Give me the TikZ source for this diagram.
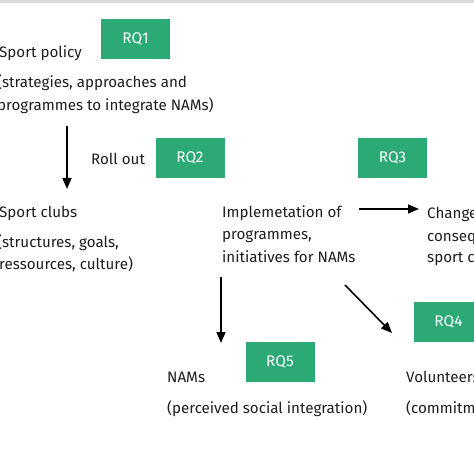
\documentclass[tikz,border=0pt]{standalone}
\usepackage{fontspec}
\setmainfont{Fira Sans}
\usetikzlibrary{arrows.meta}
\definecolor{rqgreen}{RGB}{44,170,118}
\definecolor{txt}{RGB}{30,30,30}
\begin{document}
\begin{tikzpicture}[x=1bp,y=-1bp,
  rq/.style={fill=rqgreen,text=white,minimum width=69bp,minimum height=40bp,inner sep=0pt,font=\fontsize{15.5}{18}\selectfont},
  lbl/.style={anchor=mid west,inner sep=0pt,text=txt,font=\fontsize{15.2}{18}\selectfont},
  arr/.style={line width=1.6bp,-{Triangle[length=11bp,width=9bp]}}]
\useasboundingbox (0,0) rectangle (474,474);
\clip (0,0) rectangle (474,474);
\fill[black!15] (0,0) rectangle (474,3);
% RQ boxes
\node[rq] (rq1) at (135.5,39) {RQ1};
\node[rq] (rq2) at (190,158) {RQ2};
\node[rq] (rq3) at (392.5,158) {RQ3};
\node[rq] (rq4) at (448.5,322) {RQ4};
\node[rq] (rq5) at (280,362) {RQ5};
% texts
\node[lbl] (sp) at (-1,55) {Sport policy};
\node[lbl] (sp1) at (-3,85) {(strategies, approaches and};
\node[lbl] (sp2) at (-3,108) {programmes to integrate NAMs)};
\node[lbl] (ro) at (91,162) {Roll out};
\node[lbl] (sc) at (-1,215) {Sport clubs};
\node[lbl] (sc1) at (-3,245) {(structures, goals,};
\node[lbl] (sc2) at (-1,267) {ressources, culture)};
\node[lbl] (im1) at (222,215) {Implemetation of};
\node[lbl] (im2) at (222,237) {programmes,};
\node[lbl] (im3) at (222,260) {initiatives for NAMs};
\node[lbl] (ch1) at (427,216) {Changes and};
\node[lbl] (ch2) at (427,239) {consequences for};
\node[lbl] (ch3) at (427,260) {sport clubs};
\node[lbl] (nam) at (167,380) {NAMs};
\node[lbl] (nam1) at (167,411) {(perceived social integration)};
\node[lbl] (vol) at (406,380) {Volunteers};
\node[lbl] (vol1) at (406,411) {(commitment)};
% connectors
\coordinate (a1s) at (67,126); \coordinate (a1e) at (67,189);
\coordinate (a2s) at (359,209); \coordinate (a2e) at (419,209);
\coordinate (a3s) at (221,277); \coordinate (a3e) at (221,343);
\coordinate (a4s) at (345,285); \coordinate (a4e) at (392,333);
\draw[arr] (a1s) -- (a1e);
\draw[arr] (a2s) -- (a2e);
\draw[arr] (a3s) -- (a3e);
\draw[arr] (a4s) -- (a4e);
\end{tikzpicture}
\end{document}
